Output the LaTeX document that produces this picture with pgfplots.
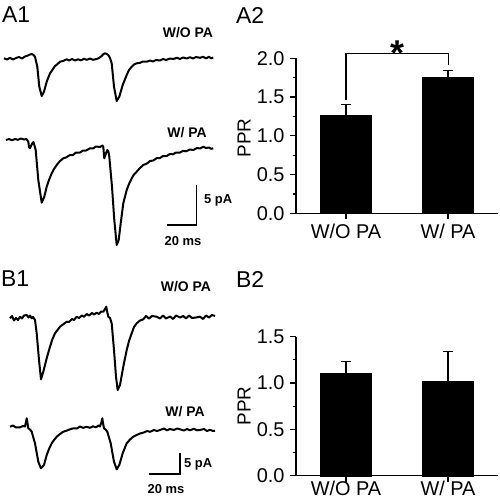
\documentclass[border=0pt]{standalone}
\usepackage{pgfplots}
\pgfplotsset{compat=1.18}
\usepackage{fontspec}
\setmainfont{Liberation Sans}
\begin{document}
\begin{tikzpicture}
\useasboundingbox (0,0) rectangle (500bp,500bp);
% ---------- bar charts ----------
\pgfplotsset{barax/.style={scale only axis, width=202bp, anchor=south west,
  xmin=-0.49, xmax=1.49, ymin=0,
  axis x line*=bottom, axis y line*=left, axis line style={line width=1.3bp},
  tick align=outside, major tick length=6bp, minor tick length=3.5bp,
  every tick/.style={black, line width=1.2bp},
  xtick={0,1}, xticklabels={W/O PA, W/ PA},
  tick label style={font=\fontsize{20}{20}\selectfont},
  yticklabel style={xshift=-2bp},
  xticklabel style={inner sep=0.5bp},
  clip=false}}
\begin{axis}[barax, at={(296bp,286.7bp)}, height=155bp, ymax=2,
  ytick={0,0.5,1,1.5,2}, yticklabels={0.0,0.5,1.0,1.5,2.0},
  minor ytick={0.25,0.75,1.25,1.75}, xticklabel style={yshift=-4bp}]
\addplot[ybar, bar width=51bp, fill=black, draw=black,
  error bars/.cd, y dir=plus, y explicit,
  error bar style={line width=1.2bp, black},
  error mark options={rotate=90, mark size=5bp, line width=1.2bp, black}]
  coordinates {(0,1.26) +- (0,0.14) (1,1.75) +- (0,0.09)};
\end{axis}
\begin{axis}[barax, at={(296bp,24.3bp)}, height=139bp, ymax=1.5,
  ytick={0,0.5,1,1.5}, yticklabels={0.0,0.5,1.0,1.5},
  minor ytick={0.25,0.75,1.25}, xticklabel style={yshift=1bp}]
\addplot[ybar, bar width=51bp, fill=black, draw=black,
  error bars/.cd, y dir=plus, y explicit,
  error bar style={line width=1.2bp, black},
  error mark options={rotate=90, mark size=5bp, line width=1.2bp, black}]
  coordinates {(0,1.105) +- (0,0.13) (1,1.02) +- (0,0.32)};
\end{axis}
% ---------- traces and annotations (pixel space, y down) ----------
\begin{axis}[at={(0bp,0bp)}, anchor=south west, scale only axis, width=500bp, height=500bp,
  xmin=0, xmax=500, ymin=0, ymax=500, y dir=reverse, hide axis, clip=false]
\addplot[black, line width=2bp, line join=round] coordinates {
(4,58.3)(7,59.5)(10,57.8)(13,59.5)(16,58)(19,57)(22,58.5)(25,56.5)(28,55.5)(30,54.5)(31.7,54)(33.5,55)(35,56.7)(37.3,66.7)(39.3,86.7)(41.7,96)(44,91.7)(46.7,81.7)(50,73.3)(52,70.5)(55,66)(57,64.5)(60,61.7)(63,61)(66.7,59.3)(69,60.5)(72,59)(75,60.5)(78,59.3)(81,60.3)(84,58.8)(87,59.8)(90,58.5)(93,59.8)(96.7,59)(99,58)(101.7,56)(103.5,54)(105,53.3)(106.7,54)(108.3,55)(110,58)(111.7,63.3)(114,86.7)(116.7,101)(119.3,96.7)(122.7,85)(126.7,75)(129,70)(131.7,66.7)(134,64.5)(136.7,63.3)(140,62.8)(143,61.5)(146.7,61.7)(150,60.5)(153,61.5)(156,60)(160,60.5)(163,59)(166,60)(170,58.5)(173.3,59)(177,57.8)(180,59)(183,57.5)(186.7,58.5)(190,57.2)(193,58.5)(196,57)(200,57.8)(203,56.8)(206,58.3)(209,56.8)(211,58.3)(213.3,57.5)};
\addplot[black, line width=2bp, line join=round] coordinates {
(6,140)(9,139)(12,140.3)(15,139)(18,139.8)(21,138.5)(24,139.5)(26.5,139)(28.3,141.7)(29,147)(30,148.3)(31.2,145.5)(32.5,143)(33.5,142)(35.7,150)(38.3,180)(41.7,202.7)(44.3,196.7)(46.7,186.7)(49,180)(51.7,173.3)(54,169)(56.7,165)(60,161)(63.3,158.3)(66,157.5)(70,155)(73,155)(76,152.5)(80,152.5)(83,150.5)(86,150.5)(90,148.3)(93,148.5)(96,146.5)(100,147)(102.5,145.5)(103.3,147)(104.3,158.3)(105,156)(106,153.3)(107.3,150)(108.3,151)(109.3,156.7)(112,186.7)(114.3,220)(116.7,245)(118.7,240)(120.7,223.3)(123.3,203.3)(126.7,190)(129,184)(131.7,178.3)(134,174.5)(136.7,171.7)(140,168)(143.3,165)(147,163.5)(150,161)(153.3,160.5)(157,158)(160,158)(163,156)(166.7,156)(170,154)(173,154.3)(176,152.5)(180,152.5)(183,150.8)(186,151.3)(190,149.5)(193.3,150)(197,148)(200,148.5)(203.3,146.7)(206,148)(209,147.5)(211,148.8)(213.3,148.3)};
\addplot[black, line width=2bp, line join=round] coordinates {
(10,318.3)(12,316)(14,320.5)(16,318)(18,320)(20,316.7)(22,318.5)(24,315.5)(26.7,315)(28.5,317.5)(30,315.5)(31.7,318.3)(33,317)(35,320)(36.7,333.3)(39,360)(41,379.3)(43.3,371.7)(46.7,358.3)(50,346.7)(52.5,339)(55,333.3)(57.5,330)(60,326.7)(63,324.5)(66.7,321.7)(69,322)(72,319)(74,320)(76.7,316.7)(79,318)(82,315.5)(84,316.8)(86.7,314)(89,315.5)(92,313)(94,314.5)(96.7,312.7)(99,314)(101,311.5)(103.3,311.7)(105,309)(106.3,306.7)(107,311)(108.3,316.7)(110,318)(111.7,323.3)(114,350)(116,376.7)(117.7,390)(120,385)(123.3,366.7)(126.7,350)(129,341)(131.7,333.3)(134,327)(136.7,323.3)(140,320.5)(143.3,319.3)(146,316)(149,318.5)(152,316)(156.7,316.7)(160,318.5)(163,315.5)(166,318.5)(170,316.5)(173,319)(176,315.5)(180,317.5)(183.3,316)(186,318.5)(189,315.5)(192,318)(196,317.5)(200,316.7)(203,319)(206,315.5)(209,317.5)(212,315)(215,316)};
\addplot[black, line width=2bp, line join=round] coordinates {
(10,426.7)(13,425.5)(16,427.5)(20,427.3)(23,426)(25,426.5)(26.2,421)(26.7,418.3)(27.5,423)(28.3,428.3)(30,429.5)(31.7,431.7)(35,443.3)(38.3,461.7)(41,468.3)(44,465)(46.7,455)(49,449)(51.7,443.3)(54,440)(56.7,436.7)(60,434)(63.3,431.7)(67,430.5)(70,429.3)(73.3,428.3)(77,428.5)(80,426.5)(83,427.8)(86.7,426.8)(90,427.8)(93,426.3)(96,427.3)(98.5,425.5)(100,426.5)(101.5,422)(102.3,418.3)(103,423)(104,428.3)(105.5,429.5)(107.3,431.7)(110.7,443.3)(114,461.7)(116.7,469.3)(119.3,465)(122.7,453.3)(126.7,443.3)(130,439.5)(133.3,436.7)(137,434.8)(140,433.5)(143.3,432.7)(147,431)(150,431.8)(154,430)(157,431)(160,430)(164,428.5)(167,430.3)(170,429)(174,430)(177,428.5)(180,429.3)(184,430.5)(187,429)(190,430.3)(194,428.8)(197,430.3)(200,430)(204,429)(207,431)(210,429.8)(213,431)(215,430.7)};
% scale bars
\addplot[black, line width=1.5bp] coordinates {(166.7,225)(196.7,225)(196.7,185)};
\addplot[black, line width=1.5bp] coordinates {(149.3,474)(180,474)(180,453.3)};
% significance bracket
\addplot[black, line width=1.3bp] coordinates {(346,100)(346,53.3)(448.3,53.3)(448.3,65)};
% texts
\node[font=\fontsize{23}{23}\selectfont, anchor=west, inner sep=0] at (axis cs:2,15) {A1};
\node[font=\fontsize{23}{23}\selectfont, anchor=west, inner sep=0] at (axis cs:236,15) {A2};
\node[font=\fontsize{23}{23}\selectfont, anchor=west, inner sep=0] at (axis cs:1,278.5) {B1};
\node[font=\fontsize{23}{23}\selectfont, anchor=west, inner sep=0] at (axis cs:236,279.5) {B2};
\node[font=\bfseries\fontsize{14}{14}\selectfont, inner sep=0] at (axis cs:188,32.5) {W/O PA};
\node[font=\bfseries\fontsize{14}{14}\selectfont, inner sep=0] at (axis cs:187,132.5) {W/ PA};
\node[font=\bfseries\fontsize{13}{13}\selectfont, anchor=west, inner sep=0] at (axis cs:204,200.5) {5 pA};
\node[font=\bfseries\fontsize{13}{13}\selectfont, inner sep=0] at (axis cs:183,241) {20 ms};
\node[font=\bfseries\fontsize{14}{14}\selectfont, inner sep=0] at (axis cs:186,287) {W/O PA};
\node[font=\bfseries\fontsize{14}{14}\selectfont, inner sep=0] at (axis cs:185,412) {W/ PA};
\node[font=\bfseries\fontsize{13}{13}\selectfont, anchor=west, inner sep=0] at (axis cs:184,464) {5 pA};
\node[font=\bfseries\fontsize{13}{13}\selectfont, inner sep=0] at (axis cs:166,489) {20 ms};
\node[font=\fontsize{19}{19}\selectfont, rotate=90, inner sep=0] at (axis cs:244,138) {PPR};
\node[font=\fontsize{19}{19}\selectfont, rotate=90, inner sep=0] at (axis cs:244,406) {PPR};
\node[font=\bfseries\fontsize{36}{36}\selectfont, anchor=base, inner sep=0] at (axis cs:397.7,65) {*};
\end{axis}
\end{tikzpicture}
\end{document}
